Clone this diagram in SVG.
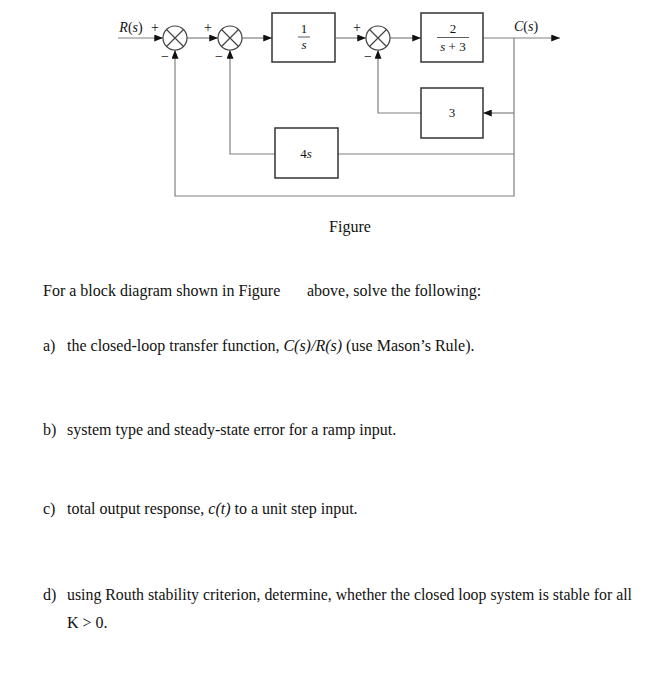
<svg xmlns="http://www.w3.org/2000/svg" width="669" height="687" viewBox="0 0 669 687">
<style>
.w{fill:none;stroke:#808080;stroke-width:1.2}
.b{fill:#fff;stroke:#333;stroke-width:1.5}
.s{fill:#fff;stroke:#444;stroke-width:1.2}
.x{fill:none;stroke:#444;stroke-width:1.2}
.t{font-family:"Liberation Serif","Times New Roman",serif;fill:#111}
.d{font-size:13px}
.l{font-size:14px}
.i{font-style:italic}
.p{font-size:16px}
</style>
<defs>
<marker id="a" viewBox="0 0 10 8" refX="10" refY="4" markerWidth="9" markerHeight="7" markerUnits="userSpaceOnUse" orient="auto">
<path d="M0,0 L10,4 L0,8 Z" fill="#111"/>
</marker>
</defs>
<rect width="669" height="687" fill="#fff"/>
<g id="connectors">
<line class="w" x1="118" y1="38" x2="163" y2="38" marker-end="url(#a)"/>
<line class="w" x1="187" y1="38" x2="218" y2="38" marker-end="url(#a)"/>
<line class="w" x1="242" y1="38" x2="272" y2="38" marker-end="url(#a)"/>
<line class="w" x1="336" y1="38" x2="366" y2="38" marker-end="url(#a)"/>
<line class="w" x1="390" y1="38" x2="421" y2="38" marker-end="url(#a)"/>
<line class="w" x1="483" y1="38" x2="560" y2="38" marker-end="url(#a)"/>
<polyline class="w" points="514,38 514,196 175,196 175,50" marker-end="url(#a)"/>
<polyline class="w" points="514,154 338,154"/>
<polyline class="w" points="275,154 230,154 230,50" marker-end="url(#a)"/>
<polyline class="w" points="514,113 483,113" marker-end="url(#a)"/>
<polyline class="w" points="421,113 378,113 378,50" marker-end="url(#a)"/>
</g>
<g id="sum1">
<circle class="s" cx="175" cy="38" r="12"/>
<path class="x" d="M166.5,29.5 L183.5,46.5 M183.5,29.5 L166.5,46.5"/>
<text class="t l" x="155" y="32" text-anchor="middle">+</text>
<text class="t l" x="165" y="61" text-anchor="middle">−</text>
</g>
<g id="sum2">
<circle class="s" cx="230" cy="38" r="12"/>
<path class="x" d="M221.5,29.5 L238.5,46.5 M238.5,29.5 L221.5,46.5"/>
<text class="t l" x="208" y="32" text-anchor="middle">+</text>
<text class="t l" x="219" y="61" text-anchor="middle">−</text>
</g>
<g id="sum3">
<circle class="s" cx="378" cy="38" r="12"/>
<path class="x" d="M369.5,29.5 L386.5,46.5 M386.5,29.5 L369.5,46.5"/>
<text class="t l" x="357" y="32" text-anchor="middle">+</text>
<text class="t l" x="368" y="61" text-anchor="middle">−</text>
</g>
<g id="integrator">
<rect class="b" x="272" y="13" width="63" height="49"/>
<text class="t d" x="304" y="33" text-anchor="middle">1</text>
<line x1="298" y1="37" x2="310" y2="37" stroke="#333" stroke-width="0.8"/>
<text class="t d i" x="304" y="49" text-anchor="middle">s</text>
</g>
<g id="plant">
<rect class="b" x="421" y="13" width="62" height="49"/>
<text class="t d" x="453" y="33" text-anchor="middle">2</text>
<line x1="437" y1="37.5" x2="469" y2="37.5" stroke="#333" stroke-width="0.8"/>
<text class="t d" x="453" y="51" text-anchor="middle"><tspan class="i">s</tspan> + 3</text>
</g>
<g id="gain3">
<rect class="b" x="421" y="88" width="62" height="50"/>
<text class="t d" x="452" y="117" text-anchor="middle">3</text>
</g>
<g id="gain4s">
<rect class="b" x="275" y="128" width="63" height="50"/>
<text class="t d" x="306" y="158" text-anchor="middle">4<tspan class="i">s</tspan></text>
</g>
<g id="labels">
<text class="t l" x="131" y="32" text-anchor="middle"><tspan class="i">R</tspan>(<tspan class="i">s</tspan>)</text>
<text class="t l" x="526" y="31" text-anchor="middle"><tspan class="i">C</tspan>(<tspan class="i">s</tspan>)</text>
<text class="t" x="350" y="232" text-anchor="middle" font-size="16">Figure</text>
</g>
<g id="text">
<text class="t p" x="43" y="296">For a block diagram shown in Figure</text>
<text class="t p" x="307" y="296">above, solve the following:</text>
<text class="t p" x="43" y="351">a)</text>
<text class="t p" x="67" y="351">the closed-loop transfer function, <tspan class="i">C(s)/R(s)</tspan> (use Mason’s Rule).</text>
<text class="t p" x="43" y="435">b)</text>
<text class="t p" x="67" y="435">system type and steady-state error for a ramp input.</text>
<text class="t p" x="43" y="514">c)</text>
<text class="t p" x="67" y="514">total output response, <tspan class="i">c(t)</tspan> to a unit step input.</text>
<text class="t p" x="43" y="600">d)</text>
<text class="t p" x="67" y="600" textLength="565" lengthAdjust="spacingAndGlyphs">using Routh stability criterion, determine, whether the closed loop system is stable for all</text>
<text class="t p" x="67" y="628">K &gt; 0.</text>
</g>
</svg>
